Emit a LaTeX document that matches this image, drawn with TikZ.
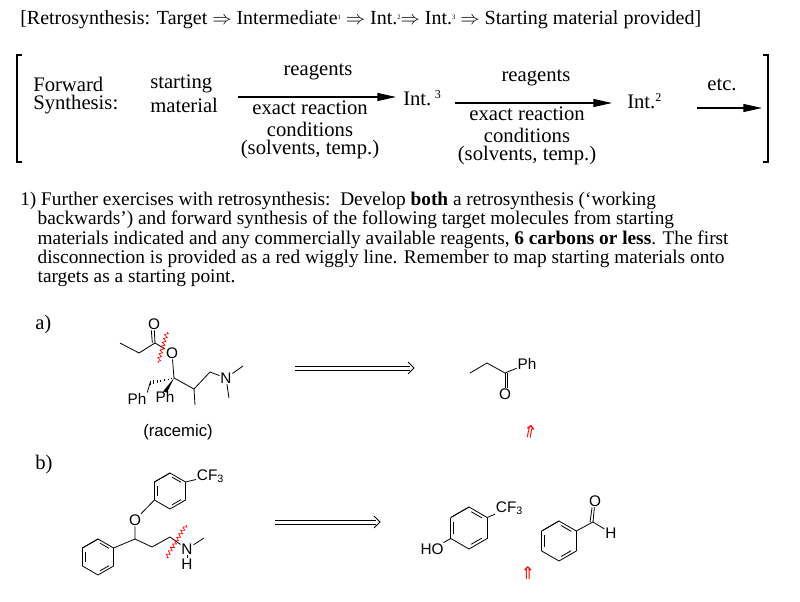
\documentclass[tikz,border=0pt]{standalone}
\usepackage{fontspec}
\setmainfont{Liberation Serif}
\newfontfamily\chem{Liberation Sans}
\newfontfamily\sym{DejaVu Sans}
\usetikzlibrary{arrows.meta,decorations.pathmorphing,calc}
\tikzset{
 bond/.style={line width=0.6pt},
 lab/.style={font=\chem\fontsize{11.5}{12}\selectfont,inner sep=0.5pt,fill=white},
 big/.style={font=\fontsize{15.5}{16}\selectfont,inner sep=0pt},
 rarr/.style={line width=0.8pt,-{Triangle[length=14pt,width=6pt]}},
 wig/.style={red,line width=0.5pt,decorate,decoration={snake,amplitude=1.3pt,segment length=3pt}},
 retro/.style={line width=0.6pt},
 brk/.style={line width=1.2pt}
}
\newcommand{\ring}[3]{% center x, center y, radius ; pointy top, inner double bonds
 \foreach \a in {90,150,...,450}{\draw[bond] ({#1+#3*cos(\a)},{#2-#3*sin(\a)}) -- ({#1+#3*cos(\a+60)},{#2-#3*sin(\a+60)});}
 \foreach \a in {30,150,270}{\draw[bond] ({#1+0.78*#3*cos(\a+8)},{#2-0.78*#3*sin(\a+8)}) -- ({#1+0.78*#3*cos(\a+52)},{#2-0.78*#3*sin(\a+52)});}
}
\newcommand{\retroarrow}[2]{% start name, end name (horizontal)
 \draw[retro] ($(#1)+(0,-2)$) -- ($(#2)+(-4,-2)$);
 \draw[retro] ($(#1)+(0,2)$) -- ($(#2)+(-4,2)$);
 \draw[retro,line join=miter] ($(#2)+(-6,-6)$) -- (#2) -- ($(#2)+(-6,6)$);
}
\begin{document}
\begin{tikzpicture}[x=0.75pt,y=-0.75pt]
\useasboundingbox (0,0) rectangle (800,602);
% header
\node[anchor=west,font=\fontsize{15}{16}\selectfont,inner sep=0] (hdr) at (20,20) {[Retrosynthesis: Target $\Rightarrow$ Intermediate\raisebox{0.6ex}{\tiny 1} $\Rightarrow$ Int.\raisebox{0.6ex}{\tiny 2}$\Rightarrow$ Int.\raisebox{0.6ex}{\tiny 3} $\Rightarrow$ Starting material provided]};
% brackets
\draw[brk] (22,55) -- (17,55) -- (17,162) -- (22,162);
\draw[brk] (763,55) -- (768,55) -- (768,162) -- (763,162);
\node[big,anchor=west] (fw1) at (33,84) {Forward};
\node[big,anchor=west] (fw2) at (33,105) {Synthesis:};
\node[big,anchor=west] (sm1) at (150,84) {starting};
\node[big,anchor=west] (sm2) at (150,105) {material};
\coordinate (a1s) at (238,97); \coordinate (a1e) at (396,97);
\draw[rarr] (a1s) -- (a1e);
\node[big] (rg1) at (318,72) {reagents};
\node[big] (ex1) at (310,108) {exact reaction};
\node[big] (cn1) at (310,129) {conditions};
\node[big] (sv1) at (310,150) {(solvents, temp.)};
\node[big,anchor=west] (i3) at (403,98) {Int.\,\raisebox{0.7ex}{\small 3}};
\coordinate (a2s) at (455,103); \coordinate (a2e) at (612,103);
\draw[rarr] (a2s) -- (a2e);
\node[big] (rg2) at (536,78) {reagents};
\node[big] (ex2) at (527,114) {exact reaction};
\node[big] (cn2) at (527,135) {conditions};
\node[big] (sv2) at (527,156) {(solvents, temp.)};
\node[big,anchor=west] (i2) at (627,101) {Int.\raisebox{0.7ex}{\small 2}};
\node[big] (etc) at (722,85) {etc.};
\coordinate (a3s) at (697,108); \coordinate (a3e) at (762,108);
\draw[rarr] (a3s) -- (a3e);
% paragraph
\node[anchor=north west,inner sep=0,align=left,font=\fontsize{14.5}{14.4}\selectfont] (para) at (20,192) {1) Further exercises with retrosynthesis:\ \ Develop \textbf{both} a retrosynthesis (`working\\
\hspace*{0.9em}backwards') and forward synthesis of the following target molecules from starting\\
\hspace*{0.9em}materials indicated and any commercially available reagents, \textbf{6 carbons or less}. The first\\
\hspace*{0.9em}disconnection is provided as a red wiggly line. Remember to map starting materials onto\\
\hspace*{0.9em}targets as a starting point.};
\node[big,anchor=west] (la) at (35,325) {a)};
\node[big,anchor=west] (lb) at (35,465) {b)};
% molecule a
\node[lab] (Oc) at (154,324) {O};
\node[lab] (Oe) at (172,353) {O};
\node[lab] (Na) at (226,378) {N};
\node[lab] (Ph1) at (137,399) {Ph};
\node[lab] (Ph2) at (165,397) {Ph};
\coordinate (me) at (120,343); \coordinate (ch2) at (139,353); \coordinate (cc) at (155,343);
\coordinate (cq) at (174,378); \coordinate (bz) at (150,383); \coordinate (ch) at (194,389);
\coordinate (me2) at (195,405); \coordinate (ch2b) at (210,372); \coordinate (m1) at (243,366); \coordinate (m2) at (229,398);
\draw[bond] (me) -- (ch2) -- (cc) -- (Oe) -- (cq) -- (ch) -- (ch2b) -- (Na) -- (m1);
\draw[bond] (Na) -- (m2); \draw[bond] (ch) -- (me2);
\draw[bond] (cc) -- (Oc); \draw[bond] ([xshift=-2pt]cc) -- ([xshift=-2pt]Oc.south);
\draw[bond] (bz) -- (Ph1.north east);
\foreach \k in {0.1,0.25,...,1}{\draw[line width=0.5pt] ($(cq)!\k!(bz)+(0,{-2.2*\k})$) -- ($(cq)!\k!(bz)+(0,{2.2*\k})$);}
\fill (cq) -- ($(Ph2.north)+(-2,1)$) -- ($(Ph2.north)+(2,2)$) -- cycle;
\draw[wig] (167,332) -- (158,363);
\node[font=\chem\fontsize{12.5}{13}\selectfont] (rac) at (178,432) {(racemic)};
\coordinate (ra1) at (295,368); \coordinate (ra2) at (414,368);
\retroarrow{ra1}{ra2}
% product a
\node[lab] (Pha) at (527,364) {Ph};
\node[lab] (Oa) at (505,394) {O};
\coordinate (p1) at (470,373); \coordinate (p2) at (487,363); \coordinate (p3) at (505,373);
\draw[bond] (p1) -- (p2) -- (p3) -- (Pha);
\draw[bond] (p3) -- (Oa); \draw[bond] ([xshift=2pt]p3) -- ([xshift=2pt]Oa.north);
\node[red,font=\sym\fontsize{13}{13}\selectfont,rotate=-12] (up1) at (530,432) {⇑};
% molecule b
\ring{98}{557}{18}
\ring{170}{491}{18}
\node[lab] (Ob) at (135,520) {O};
\node[lab] (Nb) at (187,549) {N};
\node[lab] (Hb) at (187,564) {H};
\node[lab,anchor=west] (cf) at (196,476) {CF\textsubscript{3}};
\coordinate (b0) at (113.6,548); \coordinate (b1) at (135,539); \coordinate (b2) at (152,547);
\coordinate (b3) at (170,537); \coordinate (bm) at (204,538);
\draw[bond] (b0) -- (b1) -- (b2) -- (b3) -- (Nb) -- (bm);
\draw[bond] (Nb) -- (Hb); \draw[bond] (b1) -- (Ob) -- (154.4,500);
\draw[bond] (185.6,482) -- (cf);
\draw[wig] (186,525) -- (166,558);
\coordinate (rb1) at (275,522); \coordinate (rb2) at (380,522);
\retroarrow{rb1}{rb2}
% product b
\ring{469}{528}{21}
\node[lab] (HO) at (432,549) {HO};
\node[lab,anchor=west] (cf2) at (495,508) {CF\textsubscript{3}};
\draw[bond] (HO) -- (450.8,538.5);
\draw[bond] (487.2,517.5) -- (cf2);
\ring{559}{541}{20}
\coordinate (ald) at (593,522);
\node[lab] (Oal) at (595,501) {O};
\node[lab] (Hal) at (611,533) {H};
\draw[bond] (576.3,531) -- (ald) -- (Hal);
\draw[bond] (ald) -- (Oal); \draw[bond] ([xshift=-2.2pt]ald) -- ([xshift=-2.2pt]Oal.south);
\node[red,font=\sym\fontsize{13}{13}\selectfont] (up2) at (528,573) {⇑};
\end{tikzpicture}
\end{document}
